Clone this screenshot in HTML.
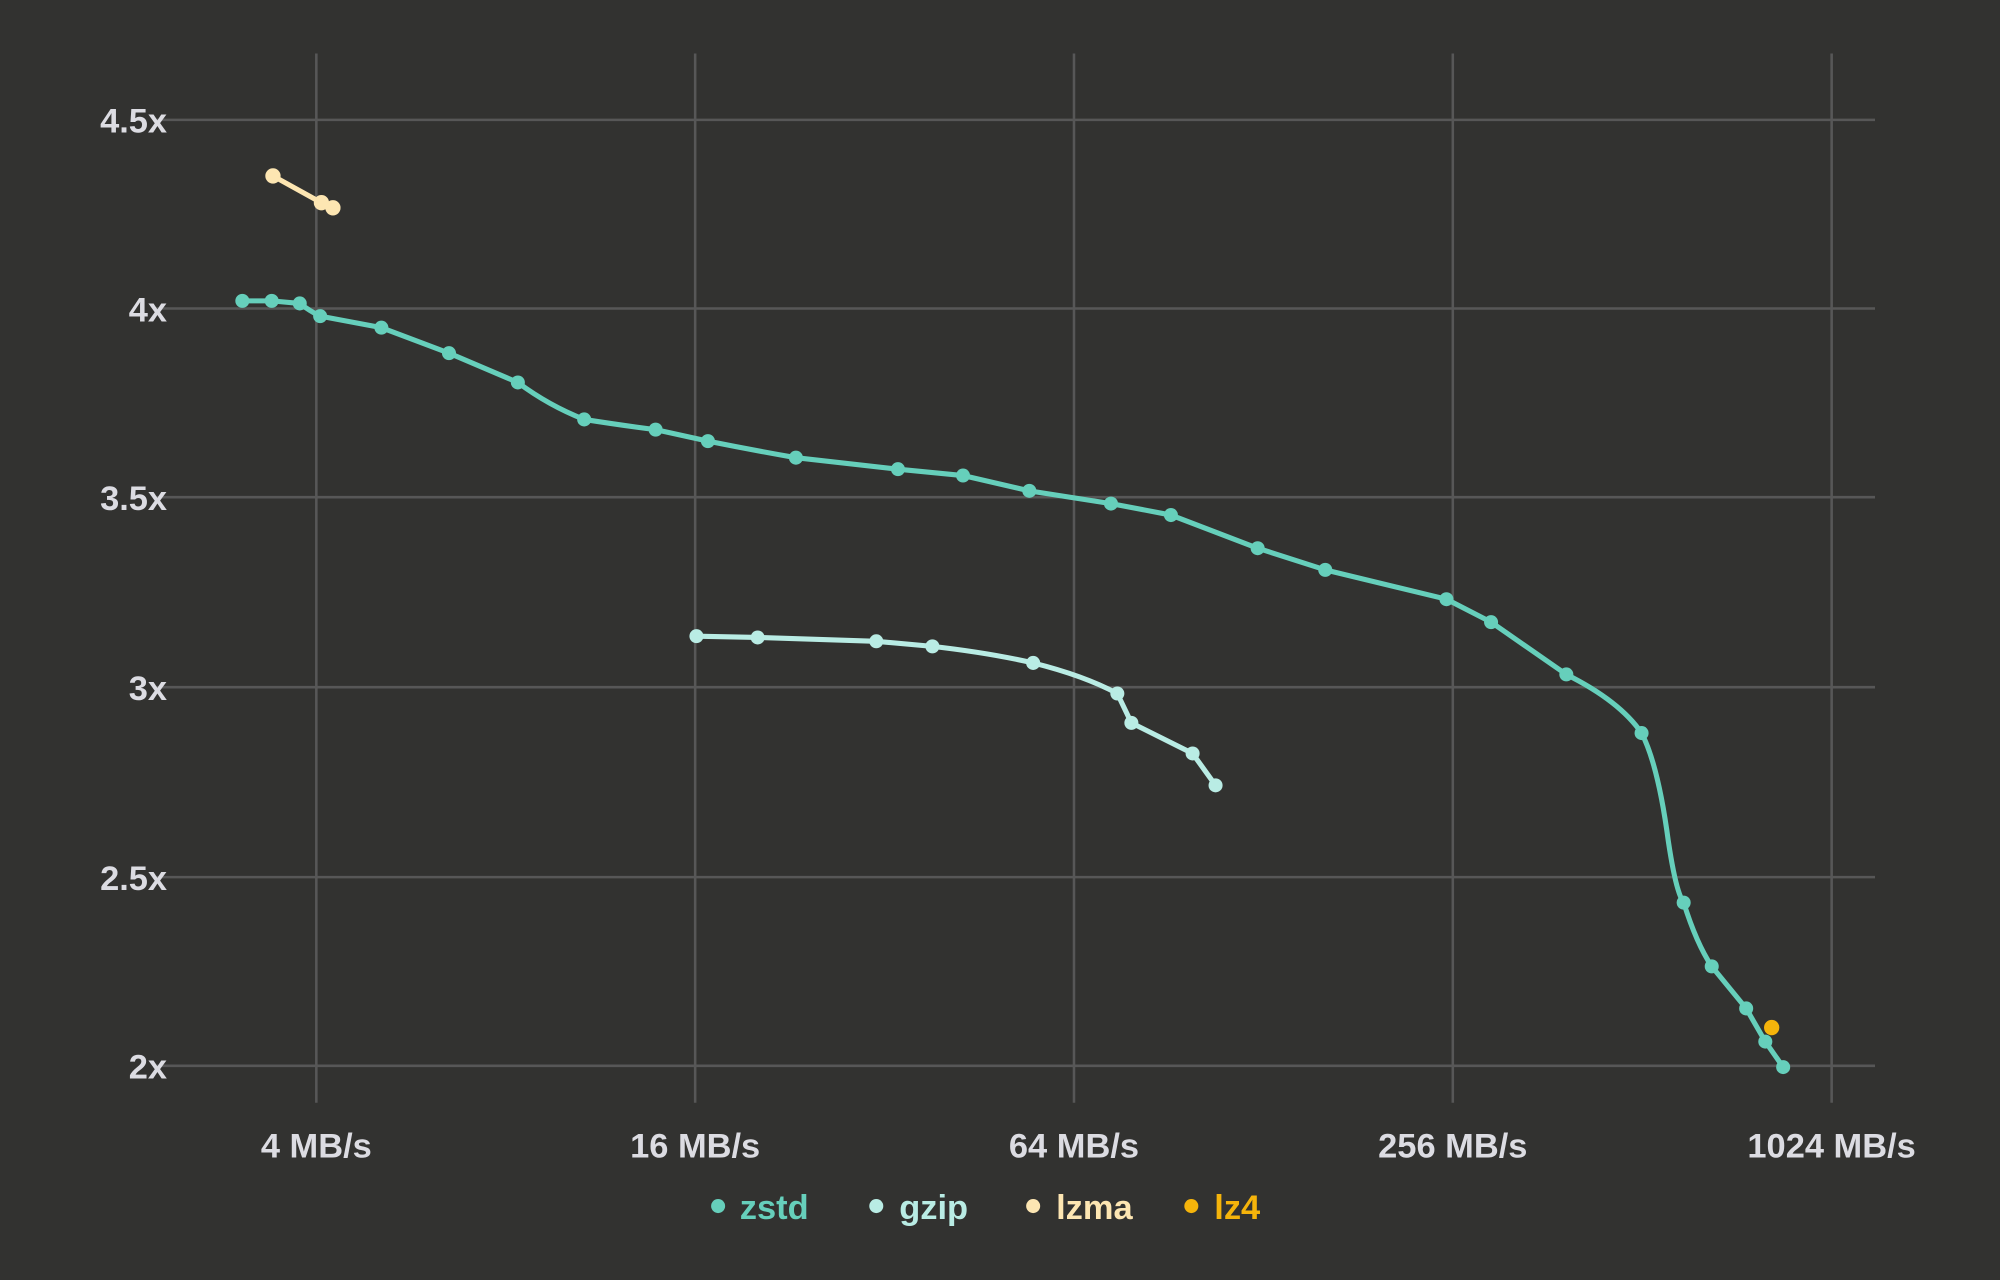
<!DOCTYPE html>
<html><head><meta charset="utf-8"><style>
html,body{margin:0;padding:0;background:#323230;}
svg{display:block}
text{font-family:"Liberation Sans",sans-serif;font-weight:bold;fill:#dcdce2;font-size:27px}
</style></head><body>
<svg width="2000" height="1280" viewBox="0 0 1568 1004" preserveAspectRatio="none">
<rect width="1568" height="1004" fill="#323230"/>
<g stroke="#575757" stroke-width="2">
<line x1="122" y1="94" x2="1470" y2="94"/>
<line x1="122" y1="242" x2="1470" y2="242"/>
<line x1="122" y1="390" x2="1470" y2="390"/>
<line x1="122" y1="539" x2="1470" y2="539"/>
<line x1="122" y1="688" x2="1470" y2="688"/>
<line x1="122" y1="836" x2="1470" y2="836"/>
<line x1="248" y1="42" x2="248" y2="865"/>
<line x1="545" y1="42" x2="545" y2="865"/>
<line x1="842" y1="42" x2="842" y2="865"/>
<line x1="1139" y1="42" x2="1139" y2="865"/>
<line x1="1436" y1="42" x2="1436" y2="865"/>
</g>
<g text-anchor="end">
<text x="131" y="104">4.5x</text>
<text x="131" y="252">4x</text>
<text x="131" y="400">3.5x</text>
<text x="131" y="549">3x</text>
<text x="131" y="698">2.5x</text>
<text x="131" y="846">2x</text>
</g>
<g text-anchor="middle">
<text x="248" y="908">4 MB/s</text>
<text x="545" y="908">16 MB/s</text>
<text x="842" y="908">64 MB/s</text>
<text x="1139" y="908">256 MB/s</text>
<text x="1436" y="908">1024 MB/s</text>
</g>
<g fill="none" stroke-width="4" stroke-linejoin="round" stroke-linecap="round">
<path stroke="#66cfbb" d="M190,236 L213,236 L235,238 Q243,244 251,248 L299,257 L352,277 L406,300 Q430,318 458,329 Q490,334 514,337 L555,346 Q590,353 624,359 L704,368 L755,373 L807,385 L871,395 L918,404 L986,430 L1039,447 L1134,470 L1169,488 L1228,529 Q1270,550 1287,575 Q1300,600 1308,660 Q1314,700 1320,708 Q1330,740 1342,758 L1369,791 L1384,817 L1398,837"/>
<path stroke="#b9ece4" d="M546,499 L594,500 L687,503 L731,507 Q775,512 810,520 Q850,530 876,544 L887,567 L935,591 L953,616"/>
<polyline stroke="#fde6b2" points="214,138 252,159 261,163"/>
</g>
<g fill="#66cfbb">
<circle cx="190" cy="236" r="5.5"/><circle cx="213" cy="236" r="5.5"/><circle cx="235" cy="238" r="5.5"/><circle cx="251" cy="248" r="5.5"/><circle cx="299" cy="257" r="5.5"/><circle cx="352" cy="277" r="5.5"/><circle cx="406" cy="300" r="5.5"/><circle cx="458" cy="329" r="5.5"/><circle cx="514" cy="337" r="5.5"/><circle cx="555" cy="346" r="5.5"/><circle cx="624" cy="359" r="5.5"/><circle cx="704" cy="368" r="5.5"/><circle cx="755" cy="373" r="5.5"/><circle cx="807" cy="385" r="5.5"/><circle cx="871" cy="395" r="5.5"/><circle cx="918" cy="404" r="5.5"/><circle cx="986" cy="430" r="5.5"/><circle cx="1039" cy="447" r="5.5"/><circle cx="1134" cy="470" r="5.5"/><circle cx="1169" cy="488" r="5.5"/><circle cx="1228" cy="529" r="5.5"/><circle cx="1287" cy="575" r="5.5"/><circle cx="1320" cy="708" r="5.5"/><circle cx="1342" cy="758" r="5.5"/><circle cx="1369" cy="791" r="5.5"/><circle cx="1384" cy="817" r="5.5"/><circle cx="1398" cy="837" r="5.5"/>
</g>
<g fill="#b9ece4">
<circle cx="546" cy="499" r="5.5"/><circle cx="594" cy="500" r="5.5"/><circle cx="687" cy="503" r="5.5"/><circle cx="731" cy="507" r="5.5"/><circle cx="810" cy="520" r="5.5"/><circle cx="876" cy="544" r="5.5"/><circle cx="887" cy="567" r="5.5"/><circle cx="935" cy="591" r="5.5"/><circle cx="953" cy="616" r="5.5"/>
</g>
<g fill="#fde6b2">
<circle cx="214" cy="138" r="6"/><circle cx="252" cy="159" r="6"/><circle cx="261" cy="163" r="6"/>
</g>
<circle cx="1389" cy="806" r="6" fill="#f5b40b"/>
<circle cx="563" cy="946" r="5.5" fill="#66cfbb"/><text x="580" y="956" style="fill:#66cfbb">zstd</text>
<circle cx="687" cy="946" r="5.5" fill="#b9ece4"/><text x="705" y="956" style="fill:#b9ece4">gzip</text>
<circle cx="810" cy="946" r="5.5" fill="#fde6b2"/><text x="828" y="956" style="fill:#fde6b2">lzma</text>
<circle cx="934" cy="946" r="5.5" fill="#f5b40b"/><text x="952" y="956" style="fill:#f5b40b">lz4</text>
</svg>
</body></html>
